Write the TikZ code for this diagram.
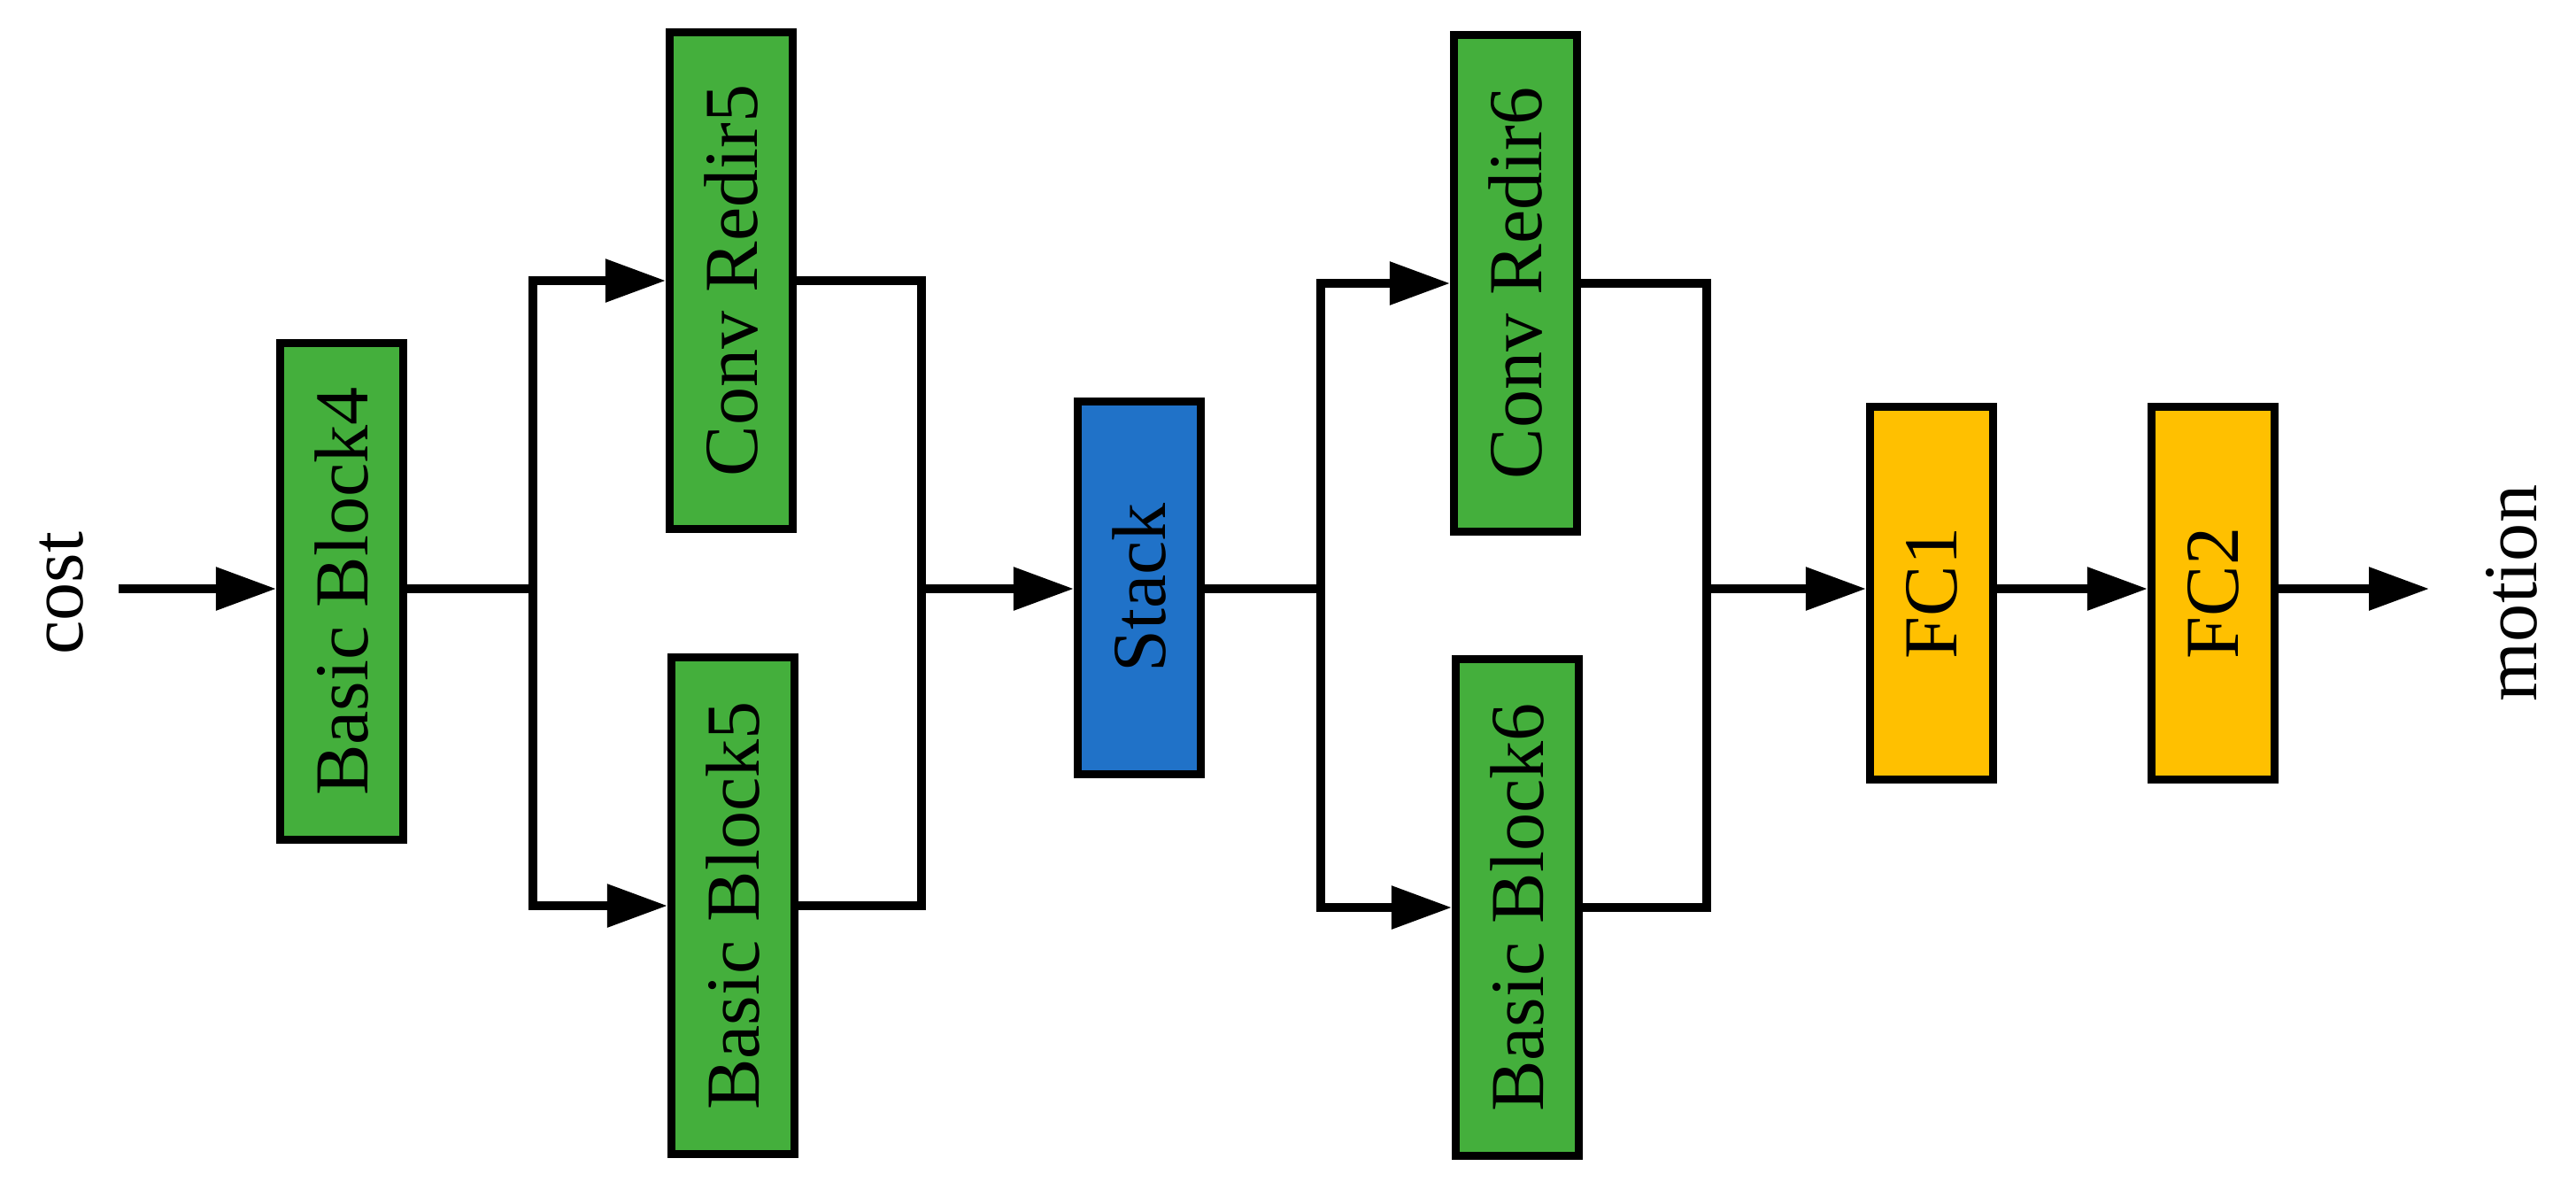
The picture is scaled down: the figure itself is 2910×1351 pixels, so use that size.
\documentclass[tikz,border=0pt]{standalone}
\usepackage{fontspec}
\setmainfont{Liberation Serif}
\usetikzlibrary{arrows.meta}
\definecolor{boxgreen}{HTML}{44AF3C}
\definecolor{boxblue}{HTML}{2072C8}
\definecolor{boxyellow}{HTML}{FFC000}
\tikzset{
  blk/.style={draw=black, line width=2.6pt, inner sep=0pt, minimum width=1.39cm},
  greenblk/.style={blk, fill=boxgreen, minimum height=5.6cm},
  shortblk/.style={blk, minimum height=4.21cm},
  wire/.style={line width=2.6pt},
  arr/.style={wire, -{Triangle[length=0.68cm,width=0.47cm]}},
  darr/.style={wire, {Triangle[length=0.68cm,width=0.47cm]}-{Triangle[length=0.68cm,width=0.47cm]}}
}
\newcommand{\vtext}[1]{\rotatebox{90}{\fontsize{24.5}{29}\selectfont #1}}
\begin{document}
\begin{tikzpicture}[x=0.01cm, y=-0.01cm]
\useasboundingbox (0,0) rectangle (2910,1351);
% nodes
\node[inner sep=0pt] (cost) at (70,670) {\vtext{cost}};
\node[greenblk] (bb4) at (386,668) {\vtext{Basic Block4}};
\node[greenblk] (cr5) at (826,317) {\vtext{Conv Redir5}};
\node[greenblk] (bb5) at (828,1023) {\vtext{Basic Block5}};
\node[shortblk, fill=boxblue] (stack) at (1287,664) {\vtext{Stack}};
\node[greenblk] (cr6) at (1712,320) {\vtext{Conv Redir6}};
\node[greenblk] (bb6) at (1714,1025) {\vtext{Basic Block6}};
\node[shortblk, fill=boxyellow] (fc1) at (2182,670) {\vtext{FC1}};
\node[shortblk, fill=boxyellow] (fc2) at (2500,670) {\vtext{FC2}};
\node[inner sep=0pt] (motion) at (2837,670) {\vtext{motion}};
% junction coordinates
\coordinate (cin) at (134,665);
\coordinate (s1) at (602,665);
\coordinate (m1) at (1041,665);
\coordinate (s2) at (1492,665);
\coordinate (m2) at (1928,665);
\coordinate (out) at (2744,665);
% connectors
\draw[arr] (cin) -- (cin -| bb4.west);
\draw[wire] (bb4.east |- s1) -- (s1);
\draw[darr] (cr5.west) -| (s1) |- (bb5.west);
\draw[wire] (cr5.east) -| (m1) |- (bb5.east);
\draw[arr] (m1) -- (m1 -| stack.west);
\draw[wire] (stack.east |- s2) -- (s2);
\draw[darr] (cr6.west) -| (s2) |- (bb6.west);
\draw[wire] (cr6.east) -| (m2) |- (bb6.east);
\draw[arr] (m2) -- (m2 -| fc1.west);
\draw[arr] (fc1.east |- out) -- (fc2.west |- out);
\draw[arr] (fc2.east |- out) -- (out);
\end{tikzpicture}
\end{document}
